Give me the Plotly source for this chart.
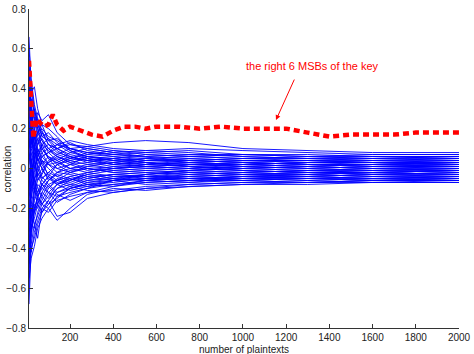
import plotly.graph_objects as go

# x positions where each wrong-key correlation curve is sampled
x_blue = [10, 20, 35, 50, 70, 100, 140, 200, 280, 400, 550, 750, 1000, 1300, 1600, 2000]

blue_curves = [
    [0.66, 0.42, 0.30, 0.22, 0.18, 0.15, 0.12, 0.10, 0.11, 0.13, 0.14, 0.13, 0.10, 0.09, 0.08, 0.08],
    [-0.68, -0.40, -0.35, -0.28, -0.22, -0.18, -0.15, -0.10, -0.08, -0.09, -0.07, -0.06, -0.05, -0.06, -0.05, -0.04],
    [0.50, 0.38, 0.41, 0.30, 0.22, 0.20, 0.16, 0.09, 0.06, 0.05, 0.07, 0.06, 0.05, 0.04, 0.04, 0.05],
    [-0.55, -0.45, -0.39, -0.30, -0.25, -0.20, -0.26, -0.20, -0.13, -0.10, -0.11, -0.09, -0.08, -0.07, -0.07, -0.06],
    [0.30, 0.25, 0.22, 0.28, 0.24, 0.27, 0.18, 0.12, 0.10, 0.08, 0.06, 0.07, 0.06, 0.05, 0.06, 0.06],
    [-0.30, -0.20, -0.28, -0.35, -0.20, -0.16, -0.24, -0.22, -0.15, -0.12, -0.10, -0.08, -0.07, -0.06, -0.07, -0.07],
    [0.10, 0.20, 0.15, 0.08, 0.12, 0.05, 0.03, 0.06, 0.04, 0.02, 0.01, 0.02, 0.03, 0.02, 0.01, 0.02],
    [-0.10, 0.05, -0.08, -0.12, -0.05, -0.02, -0.04, -0.06, -0.03, -0.01, -0.02, -0.03, -0.02, -0.01, -0.02, -0.01],
    [0.40, 0.30, 0.18, 0.12, 0.15, 0.10, 0.07, 0.05, 0.08, 0.06, 0.04, 0.03, 0.04, 0.03, 0.03, 0.03],
    [-0.45, -0.30, -0.22, -0.18, -0.12, -0.15, -0.10, -0.08, -0.09, -0.06, -0.05, -0.06, -0.04, -0.03, -0.04, -0.03],
    [0.20, 0.10, 0.05, 0.12, 0.18, 0.12, 0.10, 0.13, 0.09, 0.07, 0.08, 0.07, 0.07, 0.06, 0.05, 0.05],
    [-0.20, -0.25, -0.15, -0.08, -0.10, -0.12, -0.08, -0.05, -0.07, -0.05, -0.06, -0.04, -0.05, -0.05, -0.04, -0.05],
    [0.55, 0.30, 0.25, 0.20, 0.14, 0.08, 0.10, 0.07, 0.05, 0.03, 0.02, 0.04, 0.03, 0.02, 0.02, 0.01],
    [-0.35, -0.15, -0.05, -0.10, -0.14, -0.08, -0.06, -0.02, 0.00, -0.02, -0.03, -0.01, 0.00, -0.01, 0.00, -0.01],
    [0.00, -0.10, 0.05, 0.10, 0.06, 0.08, 0.12, 0.08, 0.06, 0.04, 0.05, 0.03, 0.02, 0.03, 0.02, 0.03],
    [0.25, 0.35, 0.28, 0.20, 0.10, 0.05, 0.00, -0.02, 0.01, 0.00, 0.02, 0.01, 0.00, 0.01, 0.00, 0.00],
    [-0.60, -0.35, -0.20, -0.15, -0.18, -0.12, -0.14, -0.12, -0.10, -0.08, -0.07, -0.06, -0.06, -0.05, -0.06, -0.05],
    [0.35, 0.15, 0.10, 0.05, 0.00, 0.03, 0.05, 0.02, 0.03, 0.05, 0.04, 0.05, 0.04, 0.04, 0.05, 0.04],
    [-0.15, -0.05, 0.10, 0.15, 0.10, 0.12, 0.08, 0.06, 0.03, 0.01, 0.00, -0.01, 0.01, 0.00, 0.01, 0.01],
    [0.15, 0.00, -0.10, -0.18, -0.12, -0.06, -0.03, -0.05, -0.08, -0.07, -0.05, -0.04, -0.03, -0.04, -0.03, -0.03],
    [0.45, 0.25, 0.15, 0.18, 0.20, 0.16, 0.14, 0.10, 0.07, 0.09, 0.08, 0.09, 0.07, 0.06, 0.07, 0.07],
    [-0.40, -0.28, -0.30, -0.22, -0.16, -0.10, -0.05, -0.07, -0.04, -0.03, -0.04, -0.02, -0.03, -0.02, -0.03, -0.02],
    [0.05, 0.12, 0.20, 0.14, 0.08, 0.02, -0.02, 0.00, 0.02, 0.03, 0.01, 0.00, 0.01, 0.02, 0.01, 0.01],
    [-0.05, -0.18, -0.22, -0.15, -0.08, -0.04, 0.02, 0.04, 0.02, 0.00, -0.01, 0.00, -0.01, -0.02, -0.01, -0.02],
    [0.60, 0.45, 0.32, 0.25, 0.16, 0.14, 0.09, 0.05, 0.04, 0.05, 0.03, 0.02, 0.02, 0.03, 0.04, 0.03],
    [-0.50, -0.32, -0.18, -0.20, -0.14, -0.18, -0.12, -0.09, -0.06, -0.04, -0.05, -0.05, -0.04, -0.04, -0.05, -0.04],
    [0.28, 0.18, 0.08, 0.00, -0.05, -0.02, 0.02, 0.05, 0.07, 0.06, 0.05, 0.06, 0.05, 0.05, 0.04, 0.04],
    [-0.25, -0.12, 0.00, 0.05, 0.00, -0.05, -0.08, -0.11, -0.09, -0.08, -0.06, -0.07, -0.06, -0.05, -0.05, -0.06],
    [0.12, 0.22, 0.30, 0.22, 0.16, 0.18, 0.13, 0.09, 0.05, 0.02, 0.03, 0.01, 0.02, 0.01, 0.02, 0.02],
    [-0.12, -0.30, -0.25, -0.18, -0.22, -0.16, -0.10, -0.06, -0.02, 0.00, 0.01, 0.02, 0.01, 0.00, -0.01, 0.00],
    [0.38, 0.20, 0.12, 0.06, 0.10, 0.06, 0.04, 0.08, 0.10, 0.08, 0.09, 0.08, 0.06, 0.05, 0.05, 0.06],
    [-0.38, -0.22, -0.12, -0.02, -0.06, -0.09, -0.13, -0.16, -0.12, -0.11, -0.09, -0.08, -0.07, -0.07, -0.06, -0.06],
    [0.22, 0.05, -0.05, -0.02, 0.04, 0.00, -0.04, -0.01, 0.00, -0.02, -0.01, -0.02, -0.03, -0.02, -0.03, -0.02],
    [-0.22, -0.08, 0.08, 0.04, 0.08, 0.10, 0.06, 0.03, 0.05, 0.04, 0.02, 0.03, 0.02, 0.01, 0.02, 0.01],
    [0.48, 0.32, 0.24, 0.16, 0.12, 0.09, 0.06, 0.03, 0.00, -0.01, 0.00, 0.01, 0.00, -0.01, 0.00, 0.01],
    [-0.48, -0.38, -0.28, -0.24, -0.18, -0.14, -0.08, -0.04, -0.06, -0.05, -0.03, -0.02, -0.01, -0.02, -0.02, -0.03],
    [0.08, -0.05, -0.12, -0.06, -0.02, 0.04, 0.07, 0.10, 0.08, 0.07, 0.06, 0.05, 0.04, 0.04, 0.03, 0.04],
    [-0.08, 0.10, 0.16, 0.08, 0.02, -0.03, -0.06, -0.04, -0.02, -0.04, -0.04, -0.03, -0.04, -0.03, -0.04, -0.04],
    [0.32, 0.28, 0.20, 0.25, 0.19, 0.12, 0.10, 0.06, 0.04, 0.02, 0.04, 0.04, 0.05, 0.06, 0.06, 0.05],
    [-0.32, -0.26, -0.16, -0.12, -0.08, -0.12, -0.17, -0.13, -0.10, -0.06, -0.04, -0.04, -0.03, -0.03, -0.02, -0.01],
    [0.18, 0.28, 0.12, 0.04, 0.06, 0.02, 0.00, 0.02, -0.01, 0.01, 0.02, 0.03, 0.02, 0.03, 0.03, 0.02],
    [-0.18, -0.32, -0.20, -0.14, -0.08, -0.04, -0.07, -0.09, -0.11, -0.12, -0.10, -0.09, -0.08, -0.08, -0.07, -0.07],
    [0.02, 0.15, 0.05, -0.04, -0.08, -0.10, -0.06, -0.08, -0.05, -0.03, -0.04, -0.05, -0.05, -0.04, -0.05, -0.05],
    [-0.02, -0.15, -0.02, 0.06, 0.12, 0.15, 0.10, 0.12, 0.11, 0.09, 0.07, 0.06, 0.07, 0.07, 0.06, 0.06],
    [0.42, 0.18, 0.02, -0.06, -0.03, 0.03, 0.06, 0.04, 0.06, 0.05, 0.03, 0.02, 0.01, 0.00, 0.01, 0.00],
    [-0.42, -0.18, -0.10, -0.14, -0.10, -0.06, -0.02, -0.03, -0.05, -0.03, -0.02, -0.01, -0.02, -0.01, -0.01, -0.01],
    [0.26, 0.12, 0.18, 0.10, 0.04, -0.04, -0.08, -0.06, -0.03, -0.05, -0.06, -0.05, -0.04, -0.05, -0.06, -0.06],
    [-0.28, -0.10, -0.06, 0.02, 0.06, 0.08, 0.04, 0.00, -0.02, 0.00, 0.01, 0.00, 0.02, 0.03, 0.03, 0.02],
    [0.14, 0.02, -0.06, -0.14, -0.18, -0.20, -0.14, -0.10, -0.07, -0.06, -0.08, -0.07, -0.05, -0.04, -0.03, -0.04],
    [-0.14, 0.02, 0.12, 0.18, 0.14, 0.10, 0.12, 0.14, 0.12, 0.10, 0.09, 0.10, 0.09, 0.08, 0.07, 0.07],
    [0.52, 0.22, 0.10, 0.02, -0.04, -0.08, -0.12, -0.10, -0.08, -0.06, -0.05, -0.03, -0.02, -0.03, -0.02, -0.03],
    [-0.52, -0.28, -0.10, 0.00, 0.04, 0.02, 0.03, 0.00, 0.01, 0.03, 0.05, 0.04, 0.03, 0.02, 0.02, 0.03],
    [0.06, 0.08, 0.00, 0.08, 0.02, 0.06, 0.02, -0.02, -0.04, -0.06, -0.03, -0.01, 0.00, 0.01, 0.00, -0.01],
    [-0.06, -0.02, 0.04, -0.04, 0.00, -0.06, -0.02, 0.02, 0.06, 0.04, 0.03, 0.01, -0.01, -0.02, -0.02, -0.01],
    [0.36, 0.40, 0.26, 0.18, 0.22, 0.14, 0.15, 0.10, 0.08, 0.07, 0.06, 0.04, 0.03, 0.04, 0.03, 0.03],
    [-0.36, -0.42, -0.32, -0.26, -0.20, -0.22, -0.16, -0.14, -0.12, -0.09, -0.06, -0.05, -0.06, -0.07, -0.06, -0.05],
]

# correct key curve
x_red = [10, 15, 20, 25, 30, 40, 50, 60, 80, 100, 120, 140, 170, 200, 250, 300, 350, 400, 450,
         500, 550, 600, 650, 700, 800, 900, 1000, 1100, 1200, 1300, 1400, 1500, 1600, 1700, 1800, 1900, 2000]
y_red = [0.54, 0.42, 0.30, 0.18, 0.15, 0.22, 0.25, 0.23, 0.21, 0.22, 0.27, 0.22, 0.19, 0.21, 0.19, 0.17, 0.16, 0.19, 0.21,
         0.21, 0.20, 0.21, 0.21, 0.21, 0.20, 0.21, 0.20, 0.20, 0.20, 0.18, 0.16, 0.17, 0.17, 0.17, 0.18, 0.18, 0.18]

x_ticks = [200, 400, 600, 800, 1000, 1200, 1400, 1600, 1800, 2000]
y_ticks = [-0.8, -0.6, -0.4, -0.2, 0, 0.2, 0.4, 0.6, 0.8]
y_ticktext = ["\u22120.8", "\u22120.6", "\u22120.4", "\u22120.2", "0", "0.2", "0.4", "0.6", "0.8"]

annotation_text = "the right 6 MSBs of the key"
x_title = "number of plaintexts"
y_title = "correlation"

FONT = "Liberation Sans, Arial, Helvetica, sans-serif"

fig = go.Figure()
for ys in blue_curves:
    fig.add_trace(go.Scatter(x=x_blue, y=ys, mode="lines",
                             line=dict(color="#0000FF", width=0.9),
                             showlegend=False, hoverinfo="skip"))
fig.add_trace(go.Scatter(x=x_red, y=y_red, mode="lines",
                         line=dict(color="#FF0000", width=4.5, dash="6px,4px"),
                         showlegend=False))

fig.add_annotation(x=1324, y=0.514, xref="x", yref="y", text=annotation_text,
                   showarrow=False, font=dict(color="#FF0000", size=11, family=FONT))
fig.add_annotation(x=1153, y=0.243, xref="x", yref="y", text="",
                   showarrow=True, ax=19, ay=-42, arrowcolor="#FF0000",
                   arrowhead=2, arrowsize=1, arrowwidth=1)

# axis titles placed as paper-anchored text
fig.add_annotation(x=0.5, y=-0.066, xref="paper", yref="paper", text=x_title,
                   showarrow=False, xanchor="center", yanchor="middle",
                   font=dict(size=10, color="#222222", family=FONT))
fig.add_annotation(x=-0.049, y=0.5, xref="paper", yref="paper", text=y_title,
                   showarrow=False, xanchor="center", yanchor="middle", textangle=-90,
                   font=dict(size=10, color="#222222", family=FONT))

axis_common = dict(showline=True, linecolor="#333333", linewidth=1, ticks="inside",
                   ticklen=4, tickcolor="#333333", showgrid=False, zeroline=False,
                   tickfont=dict(size=10, color="#222222", family=FONT), mirror=False,
                   automargin=False)

fig.update_layout(
    width=474, height=354,
    margin=dict(l=29, r=15, t=9, b=26),
    paper_bgcolor="white", plot_bgcolor="white",
    font=dict(family=FONT, size=10, color="#222222"),
    xaxis=dict(range=[10, 2000], tickvals=x_ticks, **axis_common),
    yaxis=dict(range=[-0.8, 0.8], tickvals=y_ticks, ticktext=y_ticktext, **axis_common),
)
fig.write_html("out.html")
